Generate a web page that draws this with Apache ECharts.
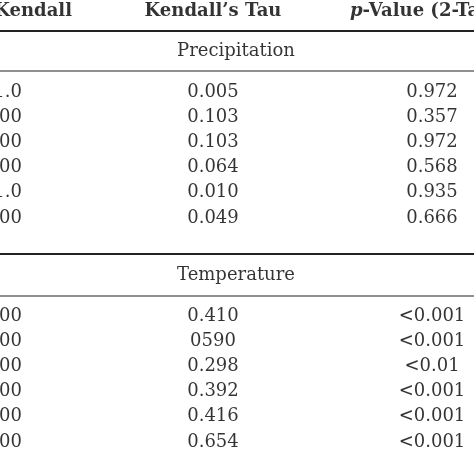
<!DOCTYPE html>
<html>
<head>
<meta charset="utf-8">
<script src="https://cdn.jsdelivr.net/npm/echarts@6/dist/echarts.min.js"></script>
<style>html,body{margin:0;padding:0;background:#fff}#main{width:474px;height:474px}</style>
</head>
<body>
<div id="main"></div>
<script>
// table contents
var headers = ['Kendall', 'Kendall\u2019s Tau', 'p-Value (2-Tailed)'];
var sections = ['Precipitation', 'Temperature'];
var firstCol = [['1.0', '1.00', '1.00', '1.00', '1.0', '1.00'], ['1.00', '1.00', '1.00', '1.00', '1.00', '1.00']];
var tauValues = [['0.005', '0.103', '0.103', '0.064', '0.010', '0.049'], ['0.410', '0590', '0.298', '0.392', '0.416', '0.654']];
var pValues = [['0.972', '0.357', '0.972', '0.568', '0.935', '0.666'], ['<0.001', '<0.001', '<0.01', '<0.001', '<0.001', '<0.001']];

var colX = [22, 213, 432];
var rowTop = [92, 316];
var rowStep = 25.2;
var sectionY = [51, 275];

var cells = [];
for (var s = 0; s < sections.length; s++) {
	cells.push({value: [236, sectionY[s]], text: sections[s], align: 'center'});
	for (var r = 0; r < tauValues[s].length; r++) {
		var y = rowTop[s] + r * rowStep;
		cells.push({value: [colX[0], y], text: firstCol[s][r], align: 'right'});
		cells.push({value: [colX[1], y], text: tauValues[s][r], align: 'center'});
		cells.push({value: [colX[2], y], text: pValues[s][r], align: 'center'});
	}
}
var heads = [
	{value: [72, 11], text: headers[0], align: 'right'},
	{value: [213, 11], text: headers[1], align: 'center'},
	{value: [350, 11], text: '{i|p}-Value (2-Tailed)', align: 'left'}
];

function hline(y, w) {
	return {type: 'line', shape: {x1: 0, y1: y, x2: 474, y2: y}, style: {stroke: '#222', lineWidth: w}};
}

var myChart = echarts.init(document.getElementById('main'));
myChart.setOption({
	backgroundColor: '#fff',
	animation: false,
	grid: {left: 0, right: 0, top: 0, bottom: 0},
	xAxis: {type: 'value', min: 0, max: 474, show: false},
	yAxis: {type: 'value', min: 0, max: 474, inverse: true, show: false},
	graphic: [hline(31, 1.8), hline(71, 1.2), hline(254, 1.8), hline(296, 1.2)],
	series: [
		{
			type: 'scatter', symbolSize: 0, silent: true,
			data: cells.map(function (c) {
				return {value: c.value, label: {show: true, position: 'inside', formatter: c.text, align: c.align}};
			}),
			label: {color: '#000', fontFamily: 'DejaVu Serif', fontSize: 18, verticalAlign: 'middle'}
		},
		{
			type: 'scatter', symbolSize: 0, silent: true,
			data: heads.map(function (c) {
				return {value: c.value, label: {show: true, position: 'inside', formatter: c.text, align: c.align}};
			}),
			label: {color: '#000', fontFamily: 'DejaVu Serif', fontWeight: 'bold', fontSize: 18, verticalAlign: 'middle',
				rich: {i: {color: '#000', fontStyle: 'italic', fontWeight: 'bold', fontFamily: 'DejaVu Serif', fontSize: 18}}}
		}
	]
});
</script>
</body>
</html>
